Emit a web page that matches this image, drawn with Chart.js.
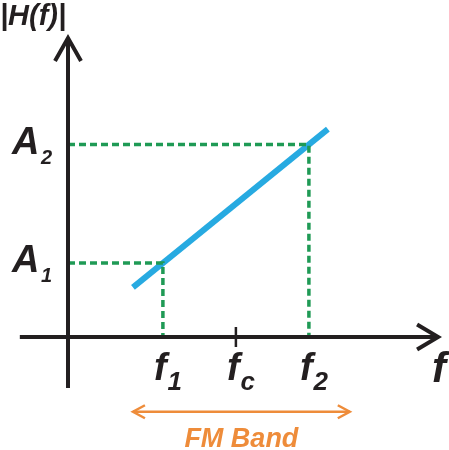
<!DOCTYPE html>
<html>
<head>
<meta charset="utf-8">
<script src="https://cdn.jsdelivr.net/npm/chart.js@4"></script>
<style>
html,body{margin:0;padding:0;background:#fff;}
#wrap{width:449px;height:450px;}
</style>
</head>
<body>
<div id="wrap"><canvas id="c" width="449" height="450"></canvas></div>
<script>
// ---- data ----
const tickValues = [1.3, 2.3, 3.3];            // f1, fc, f2
const tickLabels = [['f','1'], ['f','c'], ['f','2']];
const markedTicks = [2.3];                     // fc carries a tick mark
const levelValues = [1.0, 2.6];                // A1, A2
const levelFreqs = [1.3, 3.3];                 // frequency where each level is reached
const levelLabels = [['A','1'], ['A','2']];
const responseX = [0.89, 3.56];
const responseY = [0.67, 2.81];
const bandX = [0.89, 3.86];
const bandY = -1.01;
const bandLabel = 'FM Band';
const xAxisRange = [-0.66, 5.07];
const yAxisRange = [-0.69, 4.04];
const xAxisTitle = 'f';
const yAxisTitle = '|H(f)|';

const INK = '#231f20', GREEN = '#1f9a55', BLUE = '#27aae1', ORANGE = '#ee8c3a';
const FONT = '"Liberation Sans", Arial, sans-serif';

function seg(points, color, width, dash) {
  return {
    data: points, showLine: true, borderColor: color, borderWidth: width,
    borderDash: dash || [], pointRadius: 0, pointHoverRadius: 0, fill: false,
    tension: 0, borderCapStyle: 'butt', borderJoinStyle: 'miter'
  };
}

const datasets = [];
// axes
datasets.push(seg([{x:0,y:yAxisRange[0]},{x:0,y:yAxisRange[1]}], INK, 4));
datasets.push(seg([{x:-0.178,y:yAxisRange[1]-0.31},{x:0,y:yAxisRange[1]},{x:0.178,y:yAxisRange[1]-0.31}], INK, 4));
datasets.push(seg([{x:xAxisRange[0],y:0},{x:xAxisRange[1],y:0}], INK, 4));
datasets.push(seg([{x:xAxisRange[1]-0.288,y:0.17},{x:xAxisRange[1],y:0},{x:xAxisRange[1]-0.288,y:-0.17}], INK, 4));
markedTicks.forEach(t => datasets.push(seg([{x:t,y:0.135},{x:t,y:-0.135}], INK, 2.5)));
// guides
levelValues.forEach((a, i) => {
  datasets.push(seg([{x:0,y:a},{x:levelFreqs[i],y:a},{x:levelFreqs[i],y:0}], GREEN, 3.5, [7,4]));
});
// response
datasets.push(seg([{x:responseX[0],y:responseY[0]},{x:responseX[1],y:responseY[1]}], BLUE, 6));
// band arrow
datasets.push(seg([{x:bandX[0],y:bandY},{x:bandX[1],y:bandY}], ORANGE, 2.5));
datasets.push(seg([{x:bandX[0]+0.164,y:bandY+0.088},{x:bandX[0],y:bandY},{x:bandX[0]+0.164,y:bandY-0.088}], ORANGE, 2.5));
datasets.push(seg([{x:bandX[1]-0.164,y:bandY+0.088},{x:bandX[1],y:bandY},{x:bandX[1]-0.164,y:bandY-0.088}], ORANGE, 2.5));

const textPlugin = {
  id: 'texts',
  afterDatasetsDraw(chart) {
    const ctx = chart.ctx, xs = chart.scales.x, ys = chart.scales.y;
    ctx.save();
    ctx.fillStyle = INK;
    ctx.textBaseline = 'alphabetic';
    ctx.textAlign = 'left';
    const y0 = ys.getPixelForValue(0);
    // frequency labels
    tickValues.forEach((v, i) => {
      const px = xs.getPixelForValue(v);
      ctx.font = 'italic bold 38px ' + FONT;
      const left = px - 9;
      ctx.fillText(tickLabels[i][0], left, y0 + 43);
      const w = ctx.measureText(tickLabels[i][0]).width;
      ctx.font = 'italic bold 26px ' + FONT;
      ctx.fillText(tickLabels[i][1], left + w + 1, y0 + 53);
    });
    // level labels
    const x0 = xs.getPixelForValue(0);
    levelValues.forEach((v, i) => {
      const py = ys.getPixelForValue(v);
      ctx.font = 'italic bold 38px ' + FONT;
      ctx.fillText(levelLabels[i][0], x0 - 56, py + 9);
      ctx.font = 'italic bold 20px ' + FONT;
      ctx.fillText(levelLabels[i][1], x0 - 27, py + 19);
    });
    // axis titles
    ctx.font = 'italic bold 42px ' + FONT;
    ctx.fillText(xAxisTitle, xs.getPixelForValue(xAxisRange[1]) - 6, y0 + 45);
    ctx.font = 'italic bold 29px ' + FONT;
    ctx.fillText(yAxisTitle, x0 - 68, ys.getPixelForValue(yAxisRange[1]) - 13);
    // band label
    ctx.fillStyle = ORANGE;
    ctx.textAlign = 'center';
    ctx.font = 'italic bold 27px ' + FONT;
    ctx.fillText(bandLabel, (xs.getPixelForValue(bandX[0]) + xs.getPixelForValue(bandX[1])) / 2,
                 ys.getPixelForValue(bandY) + 35);
    ctx.restore();
  }
};

new Chart(document.getElementById('c'), {
  type: 'scatter',
  data: { datasets },
  options: {
    responsive: false,
    animation: false,
    events: [],
    layout: { padding: 0 },
    plugins: { legend: { display: false }, tooltip: { enabled: false } },
    scales: {
      x: { type: 'linear', display: false, min: -0.9315, max: 5.2192 },
      y: { type: 'linear', display: false, min: -1.527, max: 4.5541 }
    }
  },
  plugins: [textPlugin]
});
</script>
</body>
</html>
